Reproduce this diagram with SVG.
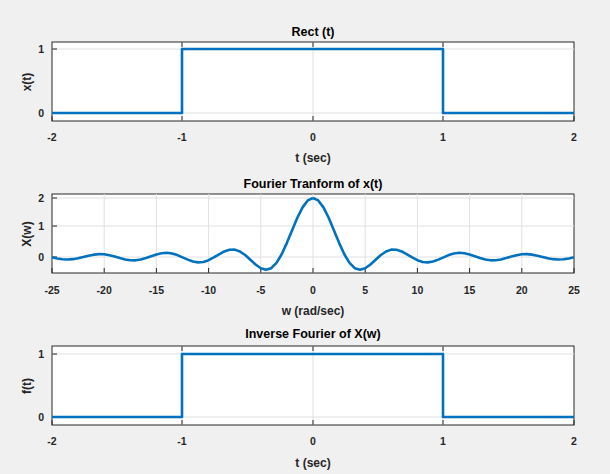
<svg xmlns="http://www.w3.org/2000/svg" width="610" height="474" viewBox="0 0 610 474">
<style>
text{font-family:"Liberation Sans",Arial,sans-serif;font-weight:bold;fill:#262626;font-size:10.5px}
.t{font-size:12.5px;fill:#000}
.l{font-size:12px}
.g{stroke:#e0e0e0;stroke-width:1;fill:none}
.box{fill:#fff;stroke:#262626;stroke-width:1}
.sig{fill:none;stroke:#0072BD;stroke-width:2.6;stroke-linejoin:round}
.tk{stroke:#262626;stroke-width:1}
</style>
<rect width="610" height="474" fill="#f0f0f0"/>
<g id="axes1">
<rect class="box" x="52" y="42" width="522" height="79"/>
<path class="g" d="M182 42V121M313 42V121M443 42V121M52 49H574M52 113H574"/>
<path class="tk" d="M52 121v-5M182 121v-5M313 121v-5M443 121v-5M574 121v-5M52 49h5M52 113h5M182 42v5M313 42v5M443 42v5"/>
<path class="sig" d="M52 113H182V49H443V113H574"/>
<g text-anchor="middle"><text x="52" y="141">-2</text><text x="182" y="141">-1</text><text x="313" y="141">0</text><text x="443" y="141">1</text><text x="574" y="141">2</text></g>
<g text-anchor="end"><text x="44" y="53">1</text><text x="44" y="117">0</text></g>
<text class="l" x="313" y="162" text-anchor="middle">t (sec)</text>
<text class="l" transform="translate(31 82) rotate(-90)" text-anchor="middle">x(t)</text>
<text class="t" x="313" y="36" text-anchor="middle">Rect (t)</text>
</g>
<g id="axes2">
<rect class="box" x="52" y="194" width="522" height="79"/>
<path class="g" d="M104.2 194V273M156.4 194V273M208.6 194V273M260.8 194V273M313 194V273M365.2 194V273M417.4 194V273M469.6 194V273M521.8 194V273M52 198H574M52 226H574M52 257H574"/>
<path class="tk" d="M52 273v-5M104.2 273v-5M156.4 273v-5M208.6 273v-5M260.8 273v-5M313 273v-5M365.2 273v-5M417.4 273v-5M469.6 273v-5M521.8 273v-5M574 273v-5M52 198h5M52 226h5M52 257h5"/>
<g id="sinc">
<path class="sig" vector-effect="non-scaling-stroke" transform="translate(313 257) scale(10.44 -29.5)" d="M0 2L0.5 1.918 1 1.683 1.5 1.33 2 0.909 2.5 0.479 3 0.0941 3.5 -0.2004 4 -0.378 4.5 -0.4344 5 -0.3836 5.5 -0.2565 6 -0.0931 6.5 0.0662 7 0.1877 7.5 0.2501 8 0.2473 8.5 0.1879 9 0.0916 9.5 -0.0158 10 -0.1088 10.5 -0.1676 11 -0.1818 11.5 -0.1523 12 -0.0894 12.5 -0.0106 13 0.0646 13.5 0.1191 14 0.1415 14.5 0.129 15 0.0867 15.5 0.0272 16 -0.036 16.5 -0.0864 17 -0.1131 17.5 -0.112 18 -0.0834 18.5 -0.0366 19 0.0158 19.5 0.0621 20 0.0913 20.5 0.0974 21 0.0797 21.5 0.0436 22 -0.0008 22.5 -0.0432 23 -0.0736 23.5 -0.0851 24 -0.0755 24.5 -0.0483 25 -0.0106"/>
<path class="sig" vector-effect="non-scaling-stroke" transform="translate(313 257) scale(-10.44 -29.5)" d="M0 2L0.5 1.918 1 1.683 1.5 1.33 2 0.909 2.5 0.479 3 0.0941 3.5 -0.2004 4 -0.378 4.5 -0.4344 5 -0.3836 5.5 -0.2565 6 -0.0931 6.5 0.0662 7 0.1877 7.5 0.2501 8 0.2473 8.5 0.1879 9 0.0916 9.5 -0.0158 10 -0.1088 10.5 -0.1676 11 -0.1818 11.5 -0.1523 12 -0.0894 12.5 -0.0106 13 0.0646 13.5 0.1191 14 0.1415 14.5 0.129 15 0.0867 15.5 0.0272 16 -0.036 16.5 -0.0864 17 -0.1131 17.5 -0.112 18 -0.0834 18.5 -0.0366 19 0.0158 19.5 0.0621 20 0.0913 20.5 0.0974 21 0.0797 21.5 0.0436 22 -0.0008 22.5 -0.0432 23 -0.0736 23.5 -0.0851 24 -0.0755 24.5 -0.0483 25 -0.0106"/>
</g>
<g text-anchor="middle"><text x="52" y="294">-25</text><text x="104.2" y="294">-20</text><text x="156.4" y="294">-15</text><text x="208.6" y="294">-10</text><text x="260.8" y="294">-5</text><text x="313" y="294">0</text><text x="365.2" y="294">5</text><text x="417.4" y="294">10</text><text x="469.6" y="294">15</text><text x="521.8" y="294">20</text><text x="574" y="294">25</text></g>
<g text-anchor="end"><text x="44" y="202">2</text><text x="44" y="230">1</text><text x="44" y="261">0</text></g>
<text class="l" x="313" y="315" text-anchor="middle">w (rad/sec)</text>
<text class="l" transform="translate(31 234) rotate(-90)" text-anchor="middle">X(w)</text>
<text class="t" x="313" y="188" text-anchor="middle">Fourier Tranform of x(t)</text>
</g>
<g id="axes3">
<rect class="box" x="52" y="346" width="522" height="79"/>
<path class="g" d="M182 346V425M313 346V425M443 346V425M52 354H574M52 417H574"/>
<path class="tk" d="M52 425v-5M182 425v-5M313 425v-5M443 425v-5M574 425v-5M52 354h5M52 417h5M182 346v5M313 346v5M443 346v5"/>
<path class="sig" d="M52 417H182V354H443V417H574"/>
<g text-anchor="middle"><text x="52" y="445">-2</text><text x="182" y="445">-1</text><text x="313" y="445">0</text><text x="443" y="445">1</text><text x="574" y="445">2</text></g>
<g text-anchor="end"><text x="44" y="358">1</text><text x="44" y="421">0</text></g>
<text class="l" x="313" y="467" text-anchor="middle">t (sec)</text>
<text class="l" transform="translate(31 386) rotate(-90)" text-anchor="middle">f(t)</text>
<text class="t" x="313" y="338" text-anchor="middle">Inverse Fourier of X(w)</text>
</g>
</svg>
